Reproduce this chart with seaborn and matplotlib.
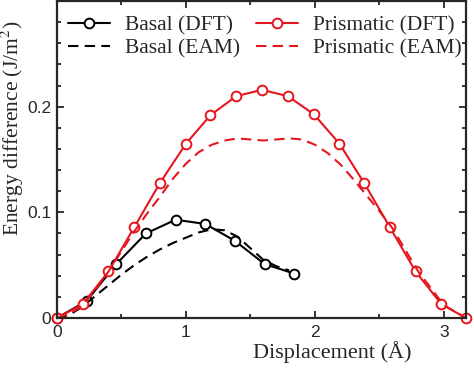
import numpy as np
import pandas as pd
import matplotlib
matplotlib.use('Agg')
import matplotlib.pyplot as plt
import seaborn as sns
from matplotlib.ticker import MultipleLocator

# Basal, DFT (circles)
basal_dft_x = [0.0, 0.23, 0.46, 0.69, 0.92, 1.15, 1.38, 1.61, 1.84]
basal_dft_y = [0.0, 0.016, 0.051, 0.080, 0.093, 0.089, 0.073, 0.051, 0.042]

# Basal, EAM (dashed)
basal_eam_x = [0.0, 0.1, 0.2, 0.3, 0.4, 0.5, 0.6, 0.7, 0.8, 0.9, 1.0,
               1.1, 1.2, 1.3, 1.4, 1.5, 1.6, 1.7, 1.8]
basal_eam_y = [0.0, 0.003, 0.011, 0.021, 0.031, 0.041, 0.050, 0.058, 0.065,
               0.071, 0.076, 0.081, 0.084, 0.083, 0.077, 0.066, 0.055, 0.049, 0.045]

# Prismatic, DFT (circles)
prism_dft_x = [0.0, 0.2, 0.4, 0.6, 0.8, 1.0, 1.19, 1.39, 1.59, 1.79, 1.99,
               2.19, 2.38, 2.58, 2.78, 2.98, 3.17]
prism_dft_y = [0.0, 0.013, 0.044, 0.086, 0.128, 0.165, 0.192, 0.210, 0.216,
               0.210, 0.193, 0.165, 0.128, 0.086, 0.044, 0.013, 0.0]

# Prismatic, EAM (dashed)
prism_eam_x = [0.0, 0.1, 0.2, 0.3, 0.4, 0.5, 0.6, 0.7, 0.8, 0.9, 1.0, 1.1,
               1.2, 1.3, 1.4, 1.5, 1.6, 1.7, 1.8, 1.9, 2.0, 2.1, 2.2, 2.3,
               2.4, 2.5, 2.6, 2.8, 3.0, 3.17]
prism_eam_y = [0.0, 0.004, 0.012, 0.027, 0.044, 0.063, 0.082, 0.099, 0.115,
               0.132, 0.146, 0.157, 0.164, 0.168, 0.170, 0.169, 0.168, 0.169,
               0.170, 0.169, 0.164, 0.156, 0.145, 0.131, 0.116, 0.101, 0.085,
               0.044, 0.012, 0.0]

red = '#e6161e'

sns.set_style('ticks')
plt.rcParams['font.family'] = ['Liberation Serif', 'DejaVu Serif']
plt.rcParams['mathtext.fontset'] = 'stix'

fig, ax = plt.subplots(figsize=(4.74, 3.71), dpi=100)
fig.subplots_adjust(left=0.120, right=0.983, bottom=0.143, top=0.997)

mk = dict(marker='o', markersize=7, markerfacecolor='white',
          markeredgewidth=1.4, clip_on=False)
dash = (0, (5, 3))

sns.lineplot(x=basal_dft_x, y=basal_dft_y, ax=ax, color='black', lw=1.5,
             label='Basal (DFT)', markeredgecolor='black', **mk)
sns.lineplot(x=basal_eam_x, y=basal_eam_y, ax=ax, color='black', lw=1.5,
             label='Basal (EAM)', linestyle=dash)
sns.lineplot(x=prism_dft_x, y=prism_dft_y, ax=ax, color=red, lw=1.5,
             label='Prismatic (DFT)', markeredgecolor=red, **mk)
sns.lineplot(x=prism_eam_x, y=prism_eam_y, ax=ax, color=red, lw=1.5,
             label='Prismatic (EAM)', linestyle=dash)

ax.set_xlim(0, 3.17)
ax.set_ylim(0, 0.30)
ax.xaxis.set_minor_locator(MultipleLocator(0.5))
ax.yaxis.set_minor_locator(MultipleLocator(0.02))
ax.set_xticks([0, 1, 2, 3])
ax.set_xticklabels(['0', '1', '2', '3'])
ax.set_yticks([0, 0.1, 0.2])
ax.set_yticklabels(['0', '0.1', '0.2'])

ax.tick_params(which='both', direction='in', top=True, right=True,
               width=1.3, labelsize=12.5)
ax.tick_params(axis='x', pad=5)
ax.tick_params(axis='y', pad=4)
ax.tick_params(which='major', length=5)
ax.tick_params(which='minor', length=3)
for lab in ax.get_xticklabels() + ax.get_yticklabels():
    lab.set_family(['Liberation Sans', 'DejaVu Sans'])
for sp in ax.spines.values():
    sp.set_linewidth(1.6)

ax.set_xlabel('Displacement (Å)', fontsize=16, va='center')
ax.xaxis.set_label_coords(0.674, -0.107)
ax.set_ylabel('Energy difference (J/m$^2$)', fontsize=15.5, va='center')
ax.yaxis.set_label_coords(-0.109, 0.60)

ax.legend(ncol=2, loc='upper left', frameon=False, fontsize=15.5,
          handlelength=1.95, handletextpad=0.7, columnspacing=0.75,
          labelspacing=0.15, borderpad=0, borderaxespad=0,
          bbox_to_anchor=(0.027, 0.955))

fig.savefig('out.png', dpi=100)
